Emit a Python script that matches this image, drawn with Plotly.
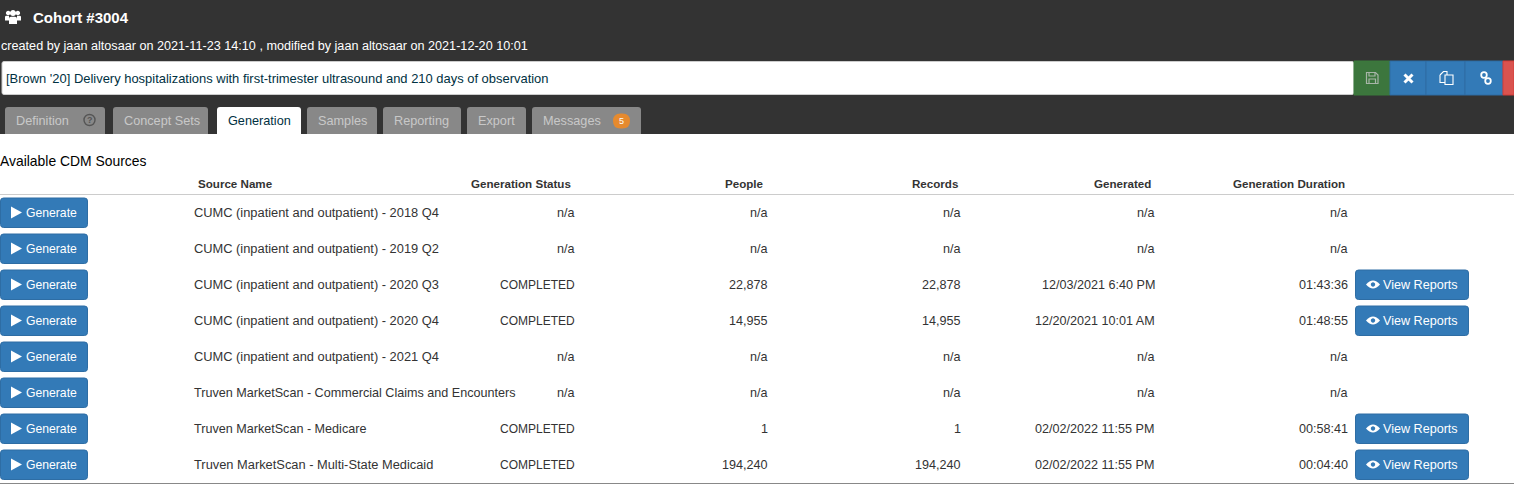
import plotly.graph_objects as go

# ---- data ----
sources = ["CUMC (inpatient and outpatient) - 2018 Q4", "CUMC (inpatient and outpatient) - 2019 Q2",
           "CUMC (inpatient and outpatient) - 2020 Q3", "CUMC (inpatient and outpatient) - 2020 Q4",
           "CUMC (inpatient and outpatient) - 2021 Q4", "Truven MarketScan - Commercial Claims and Encounters",
           "Truven MarketScan - Medicare", "Truven MarketScan - Multi-State Medicaid"]
statuses = ["n/a", "n/a", "COMPLETED", "COMPLETED", "n/a", "n/a", "COMPLETED", "COMPLETED"]
people = ["n/a", "n/a", "22,878", "14,955", "n/a", "n/a", "1", "194,240"]
records = ["n/a", "n/a", "22,878", "14,955", "n/a", "n/a", "1", "194,240"]
generated = ["n/a", "n/a", "12/03/2021 6:40 PM", "12/20/2021 10:01 AM", "n/a", "n/a",
             "02/02/2022 11:55 PM", "02/02/2022 11:55 PM"]
durations = ["n/a", "n/a", "01:43:36", "01:48:55", "n/a", "n/a", "00:58:41", "00:04:40"]
headers = ["Generation Status", "People", "Records", "Generated", "Generation Duration"]
tab_names = ["Definition", "Concept Sets", "Generation", "Samples", "Reporting", "Export", "Messages"]

FONT = "Liberation Sans, Arial, sans-serif"
shapes, notes = [], []


def text(x, y, s, size=12.6, color="#333333", anchor="left", bold=False, shift=0):
    notes.append(dict(x=x, y=y, xref="x", yref="y", text=f"<b>{s}</b>" if bold else s, showarrow=False,
                      xanchor=anchor, yanchor="middle", borderpad=0, xshift=shift,
                      font=dict(family=FONT, size=size, color=color)))


def rect(x0, y0, x1, y1, fill, line=None, width=1):
    shapes.append(dict(type="rect", x0=x0, y0=y0, x1=x1, y1=y1, xref="x", yref="y", fillcolor=fill,
                       line=dict(color=line or fill, width=width if line else 0), layer="below"))


def path(d, fill="rgba(0,0,0,0)", line=None, width=1):
    shapes.append(dict(type="path", path=d, xref="x", yref="y", fillcolor=fill,
                       line=dict(color=line or fill, width=width if line else 0), layer="above"))


def rrect(x0, y0, x1, y1, r, fill, line=None, top_only=False):
    b = (f"L{x1},{y1}L{x0},{y1}" if top_only else
         f"L{x1},{y1-r}Q{x1},{y1} {x1-r},{y1}L{x0+r},{y1}Q{x0},{y1} {x0},{y1-r}")
    d = f"M{x0+r},{y0}L{x1-r},{y0}Q{x1},{y0} {x1},{y0+r}{b}L{x0},{y0+r}Q{x0},{y0} {x0+r},{y0}Z"
    shapes.append(dict(type="path", path=d, xref="x", yref="y", fillcolor=fill,
                       line=dict(color=line or fill, width=1 if line else 0), layer="below"))


def circle(cx, cy, r, **kw):
    k = 0.5523 * r
    d = (f"M{cx-r},{cy}C{cx-r},{cy-k} {cx-k},{cy-r} {cx},{cy-r}C{cx+k},{cy-r} {cx+r},{cy-k} {cx+r},{cy}"
         f"C{cx+r},{cy+k} {cx+k},{cy+r} {cx},{cy+r}C{cx-k},{cy+r} {cx-r},{cy+k} {cx-r},{cy}Z")
    path(d, **kw)


# ---- page header ----
rect(0, 0, 1514, 134, "#333333")
for cx, cy, r in [(8.2, 13, 2.3), (17.8, 13, 2.3), (13, 13, 3.1)]:
    circle(cx, cy, r, fill="#ffffff")
path("M5,20.5L5,17Q5,15.8 6.5,15.8L9,15.8L9,20.5Z", fill="#ffffff")
path("M21,20.5L21,17Q21,15.8 19.5,15.8L17,15.8L17,20.5Z", fill="#ffffff")
path("M9,24L9,18.5Q9,16.8 11,16.8L15,16.8Q17,16.8 17,18.5L17,24Z", fill="#ffffff")
text(32, 17.5, "Cohort #3004", size=15, color="#ffffff", bold=True)
text(0, 45.5, "created by jaan altosaar on 2021-11-23 14:10 , modified by jaan altosaar on 2021-12-20 10:01",
     size=12.65, color="#ffffff")

# name input and toolbar
rrect(2, 61.5, 1354, 94.5, 2, "#ffffff", "#cccccc")
text(5, 78.5, "[Brown '20] Delivery hospitalizations with first-trimester ultrasound and 210 days of observation",
     size=12.95, color="#003142")
rect(1354, 61, 1390, 95, "#3c763d", "#3a7a3c")
rect(1390, 61, 1426, 95, "#337ab7", "#2e6da4")
rect(1426, 61, 1465, 95, "#337ab7", "#2e6da4")
rect(1465, 61, 1503, 95, "#337ab7", "#2e6da4")
rect(1503, 61, 1514, 95, "#d9534f", "#d43f3a")
path("M1366.5,72.5L1375.5,72.5L1378,75L1378,83.5L1366.5,83.5Z", line="#a8b5a8", width=1.2)
path("M1369,72.5L1369,76L1375,76L1375,72.5", line="#a8b5a8", width=1.2)
path("M1369,83.5L1369,79L1375.5,79L1375.5,83.5", line="#a8b5a8", width=1.2)
path("M1404.5,74.5L1412.5,82.5M1412.5,74.5L1404.5,82.5", line="#ffffff", width=3)
path("M1440,75L1440,82.5L1445,82.5M1440,75L1443.5,71.5L1447,71.5L1447,75", line="#ffffff", width=1.1)
path("M1445,75L1453,75L1453,84.5L1445,84.5Z", line="#ffffff", width=1.1)
circle(1484, 75, 2.8, line="#ffffff", width=1.8)
circle(1488, 81, 2.8, line="#ffffff", width=1.8)

# tabs
tab_edges = [(5, 105), (113, 208), (217, 301), (307, 377), (383, 461), (467, 526), (532, 641)]
tab_text_x = [16, 124, 228, 318, 394, 478, 543]
for name, (a, b), tx in zip(tab_names, tab_edges, tab_text_x):
    active = name == "Generation"
    rrect(a, 107, b, 134, 3, "#ffffff" if active else "#888888", top_only=True)
    text(tx - 1, 120.5, name, size=12.7, color="#003142" if active else "#c8c8c8")
circle(89.5, 120, 5.5, line="#555555", width=1.4)
text(89.5, 120, "?", size=9, color="#555555", anchor="center", bold=True)
rrect(613, 113.5, 630, 128.5, 7.5, "#e68a2e")
text(621.5, 121, "5", size=9, color="#ffffff", anchor="center")

# ---- table ----
text(0, 161, "Available CDM Sources", size=13.9, color="#000000", shift=-1)
text(197, 183.5, "Source Name", size=11.6, color="#333333", bold=True)
header_right = [571, 764, 958, 1151, 1345]
for h, hx in zip(headers, header_right):
    text(hx + 1, 183.5, h, size=11.6, color="#333333", anchor="right", bold=True)
shapes.append(dict(type="line", x0=0, x1=1514, y0=194.5, y1=194.5, xref="x", yref="y",
                   line=dict(color="#cccccc", width=1)))

columns = [(statuses, 575), (people, 768), (records, 961), (generated, 1155), (durations, 1348)]
for i, src in enumerate(sources):
    yc = 212.5 + 36 * i
    rrect(0.5, yc - 14.5, 87.5, yc + 15, 3, "#337ab7", "#2e6da4")
    path(f"M11,{yc-6}L22,{yc}L11,{yc+6}Z", fill="#ffffff")
    text(25, yc + 0.5, "Generate", size=12.2, color="#ffffff")
    text(193, yc, src, size=12.6 if ("Commercial" in src or "Medicare" in src) else 12.85, color="#333333")
    for col, cx in columns:
        text(cx + 1, yc, col[i], size=12 if col[i] == "COMPLETED" else 12.6, color="#333333", anchor="right")
    if durations[i] != "n/a":
        rrect(1355.5, yc - 14.5, 1468.5, yc + 15, 3, "#337ab7", "#2e6da4")
        path(f"M1366,{yc}Q1373,{yc-8} 1380,{yc}Q1373,{yc+8} 1366,{yc}Z", fill="#ffffff")
        circle(1373, yc, 2.2, fill="#337ab7")
        text(1382, yc + 0.5, "View Reports", color="#ffffff")
shapes.append(dict(type="line", x0=0, x1=1514, y0=483.5, y1=483.5, xref="x", yref="y",
                   line=dict(color="#888888", width=1)))

fig = go.Figure()
fig.add_trace(go.Scatter(x=[0, 1514], y=[0, 498], mode="markers", marker=dict(opacity=0),
                         hoverinfo="skip", showlegend=False))
fig.update_layout(width=1514, height=498, margin=dict(l=0, r=0, t=0, b=0), paper_bgcolor="#ffffff",
                  plot_bgcolor="#ffffff", shapes=shapes, annotations=notes, hovermode=False,
                  xaxis=dict(range=[0, 1514], visible=False, fixedrange=True),
                  yaxis=dict(range=[498, 0], visible=False, fixedrange=True))
fig.write_html("out.html", config=dict(displayModeBar=False),
               post_script="document.body.style.margin='0';document.body.style.overflow='hidden';")
